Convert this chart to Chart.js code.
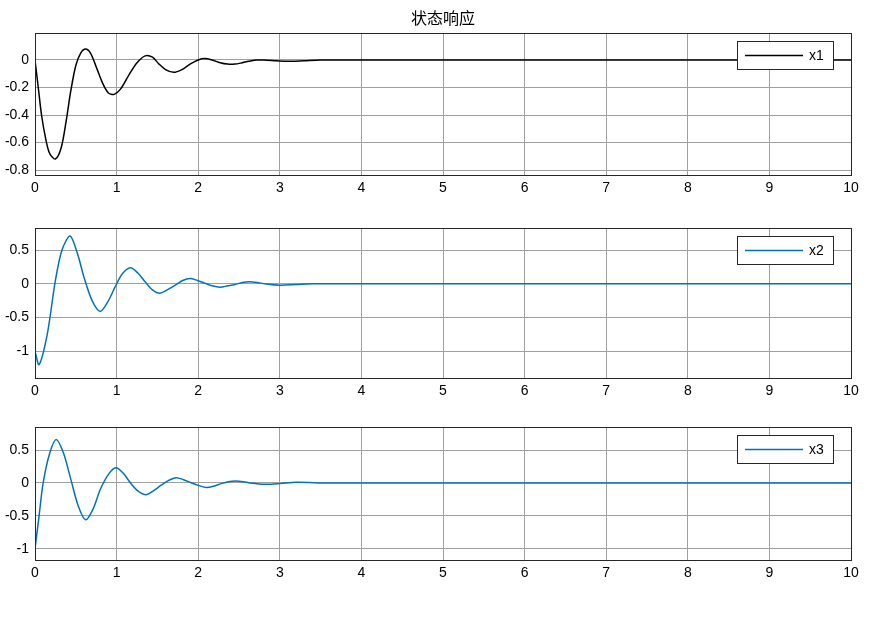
<!DOCTYPE html>
<html><head><meta charset="utf-8">
<script src="https://cdn.jsdelivr.net/npm/chart.js@4"></script>
<style>body{margin:0;background:#fff}canvas{position:absolute;left:0}</style>
</head><body>
<canvas id="c1" style="top:0" width="875" height="200"></canvas>
<canvas id="c2" style="top:200px" width="875" height="200"></canvas>
<canvas id="c3" style="top:400px" width="875" height="219"></canvas>
<script>
const titleText = "状态响应";
const xTicks = [0,1,2,3,4,5,6,7,8,9,10];
const t1 = [0,0.04,0.08,0.13,0.18,0.25,0.32,0.38,0.44,0.5,0.56,0.62,0.68,0.75,0.83,0.9,0.97,1.05,1.15,1.25,1.35,1.44,1.52,1.6,1.7,1.8,1.9,2.0,2.08,2.17,2.27,2.36,2.45,2.54,2.62,2.72,2.8,2.95,3.1,3.3,3.5,4,10];
const x1 = [0,-0.2,-0.4,-0.57,-0.68,-0.72,-0.64,-0.45,-0.22,-0.04,0.05,0.08,0.05,-0.05,-0.17,-0.24,-0.25,-0.21,-0.11,-0.02,0.03,0.02,-0.03,-0.07,-0.09,-0.07,-0.03,0.0,0.01,0.0,-0.02,-0.03,-0.03,-0.02,-0.01,0.0,0.0,-0.005,-0.01,-0.005,0,0,0];
const t2 = [0,0.05,0.15,0.25,0.33,0.43,0.52,0.6,0.7,0.8,0.9,0.98,1.07,1.17,1.26,1.35,1.44,1.53,1.62,1.72,1.81,1.9,1.99,2.08,2.17,2.27,2.36,2.45,2.54,2.63,2.72,2.82,3.0,3.2,3.4,4,10];
const x2 = [-1,-1.2,-0.75,0.05,0.5,0.71,0.45,0.1,-0.25,-0.41,-0.25,-0.05,0.15,0.24,0.16,0.03,-0.09,-0.14,-0.09,-0.02,0.05,0.08,0.05,0.01,-0.03,-0.05,-0.03,-0.01,0.02,0.03,0.02,0,-0.02,-0.01,0,0,0];
const t3 = [0,0.05,0.1,0.18,0.26,0.35,0.44,0.53,0.62,0.71,0.8,0.9,0.99,1.08,1.17,1.26,1.36,1.45,1.55,1.64,1.73,1.82,1.92,2.01,2.1,2.19,2.28,2.37,2.46,2.55,2.64,2.82,3.0,3.2,3.6,10];
const x3 = [-1,-0.5,0.0,0.45,0.66,0.45,0.05,-0.35,-0.56,-0.4,-0.1,0.13,0.23,0.15,0.0,-0.12,-0.18,-0.12,-0.03,0.04,0.08,0.05,0.0,-0.04,-0.07,-0.05,-0.01,0.02,0.03,0.02,0,-0.02,-0.01,0.01,0,0];

const font = {family:"Liberation Sans, Arial", size:14};
function mk(id, t, v, color, label, yMin, yMax, step, padTop, xH, title){
  const legendPlugin = {id:'lg'+id, afterDraw(c){
    const a=c.chartArea, g=c.ctx, w=96, h=28, x=a.right-w-18, y=a.top+8;
    g.save(); g.fillStyle='#fff'; g.fillRect(x,y,w,h); g.strokeStyle='#262626'; g.lineWidth=1;
    g.strokeRect(x+0.5,y+0.5,w,h); g.strokeStyle=color; g.lineWidth=1.5;
    g.beginPath(); g.moveTo(x+8,y+h/2+0.5); g.lineTo(x+66,y+h/2+0.5); g.stroke();
    g.fillStyle='#000'; g.font='14px Liberation Sans, Arial'; g.textBaseline='middle';
    g.fillText(label,x+72,y+h/2+1);
    if(title){ g.font='16px "Noto Sans CJK SC"'; g.textAlign='center'; g.textBaseline='middle';
      g.fillText(title,(a.left+a.right)/2,18); }
    g.strokeStyle='#262626'; g.lineWidth=1; g.strokeRect(a.left+0.5,a.top+0.5,a.right-a.left,a.bottom-a.top);
    g.restore(); }};
  new Chart(document.getElementById(id), {
    type:'line',
    data:{datasets:[{data:t.map((x,i)=>({x:x,y:v[i]})), borderColor:color, borderWidth:1.5, pointRadius:0, tension:0.3}]},
    options:{responsive:false, animation:false, layout:{padding:{top:padTop,right:24,left:0,bottom:0}},
      plugins:{legend:{display:false},tooltip:{enabled:false}},
      scales:{
        x:{type:'linear',min:0,max:10,afterFit(s){s.height=xH;},
          afterBuildTicks(s){s.ticks=xTicks.map(x=>({value:x}));},
          grid:{color:'#a0a0a0',tickLength:0}, border:{display:false},
          ticks:{font, color:'#000', padding:5, maxRotation:0}},
        y:{min:yMin,max:yMax,afterFit(s){s.width=35;},
          afterBuildTicks(s){const a=[];for(let k=Math.ceil(yMin/step-1e-9);k*step<=yMax+1e-9;k++)a.push({value:+(k*step).toFixed(6)});s.ticks=a;},
          grid:{color:'#a0a0a0',tickLength:0}, border:{display:false},
          ticks:{font, color:'#000', padding:6, callback:(val)=>String(+val.toFixed(4))}}
      }},
    plugins:[legendPlugin]
  });
}
mk('c1',t1,x1,'#000000','x1',-0.836,0.196,0.2,33,25,titleText);
mk('c2',t2,x2,'#0072BD','x2',-1.4,0.83,0.5,28,22,null);
mk('c3',t3,x3,'#0072BD','x3',-1.17,0.85,0.5,27,59,null);
</script>
</body></html>
